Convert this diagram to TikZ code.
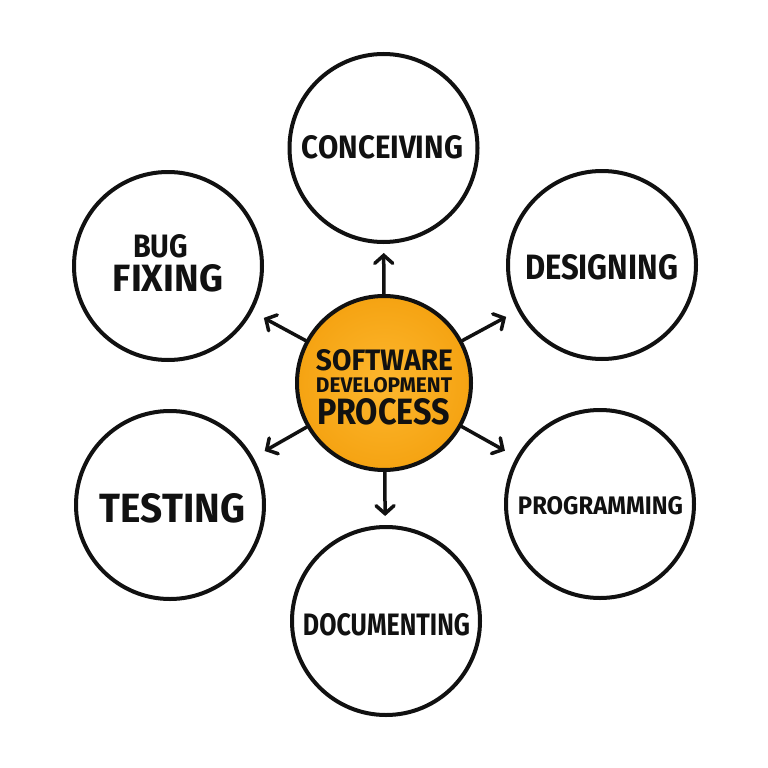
\documentclass[tikz,border=0pt]{standalone}
\usepackage{fontspec}
\setmainfont{Fira Sans}
\usetikzlibrary{arrows.meta}
\definecolor{ink}{HTML}{111111}
\definecolor{orin}{HTML}{FDB72E}
\definecolor{orout}{HTML}{F5A312}
\newcommand{\lbl}[3]{\resizebox{#1pt}{#2pt}{\bfseries #3}}
\begin{document}
\begin{tikzpicture}[x=1pt,y=-1pt,
  bub/.style={circle,draw=ink,line width=4pt,minimum size=188pt,inner sep=0pt,fill=white},
  core/.style={circle,draw=ink,line width=4pt,minimum size=174pt,inner sep=0pt,inner color=orin,outer color=orout},
  txt/.style={inner sep=0pt,text=ink},
  arr/.style={draw=ink,line width=3.5pt,line cap=round,-{Straight Barb[length=8pt,width=18pt,line cap=round]}},
  vgap/.style={shorten >=9pt},
  dgap/.style={shorten >=13pt}]
\useasboundingbox (0,0) rectangle (768,768);
\fill[white] (0,0) rectangle (768,768);
% circles
\node[core] (c) at (384,383) {};
\node[bub] (conc) at (383.5,148) {};
\node[bub] (des) at (602,265) {};
\node[bub] (prog) at (600,504) {};
\node[bub] (doc) at (386,621) {};
\node[bub] (test) at (170,505) {};
\node[bub] (bug) at (168,266) {};
% arrows
\draw[arr,vgap] (c) -- (conc);
\draw[arr,vgap] (c) -- (doc);
\draw[arr,dgap] (c) -- (des);
\draw[arr,dgap] (c) -- (prog);
\draw[arr,dgap] (c) -- (test);
\draw[arr,dgap] (c) -- (bug);
% labels
\node[txt] (t1) at (384.5,360) {\lbl{137}{21}{SOFTWARE}};
\node[txt] (t2) at (384,385) {\lbl{136}{15}{DEVELOPMENT}};
\node[txt] (t3) at (383.5,412) {\lbl{133}{26}{PROCESS}};
\node[txt] (tconc) at (382.5,147) {\lbl{161}{23}{CONCEIVING}};
\node[txt] (tdes) at (601.5,267) {\lbl{153}{25}{DESIGNING}};
\node[txt] (tprog) at (600.5,506) {\lbl{165}{18}{PROGRAMMING}};
\node[txt] (tdoc) at (386.5,625) {\lbl{167}{22}{DOCUMENTING}};
\node[txt] (ttest) at (172.5,508) {\lbl{145}{29}{TESTING}};
\node[txt] (tbug) at (160.5,246) {\lbl{55}{23}{BUG}};
\node[txt] (tfix) at (168,278) {\lbl{110}{27}{FIXING}};
\end{tikzpicture}
\end{document}
